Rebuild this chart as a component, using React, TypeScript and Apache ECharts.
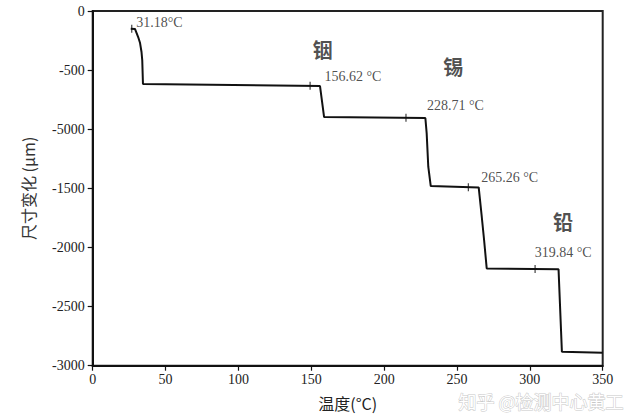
import React, { useEffect, useRef } from "react";
import * as echarts from "echarts";

// Curve: temperature (°C) vs size change (μm)
const temps = [26.1, 29.0, 31.2, 32.5, 33.5, 34.0, 34.5, 156.0, 158.8, 228.3, 229.2, 230.3, 232.0, 264.9, 267.0, 268.6, 270.4, 319.7, 322.0, 350];
const sizes = [-150, -152, -220, -271, -347, -415, -618, -635, -897, -905, -1035, -1317, -1481, -1492, -1740, -1937, -2177, -2185, -2882, -2891];

// Small tick marks on the curve
const markTemps = [26.8, 149.2, 215.0, 257.8, 303.6];
const markSizes = [-150, -633, -903, -1491, -2183];

// Transition temperature annotations
const meltTemps = [31.18, 156.62, 228.71, 265.26, 319.84];
const meltSizes = [-152, -635, -905, -1492, -2185];
const meltLabels = ["31.18°C", "156.62 °C", "228.71 °C", "265.26 °C", "319.84 °C"];
const meltOffsets = [[-1.5, -6], [4, -9.5], [1.5, -12], [2.5, -9], [-23.5, -16]];

// Element names
const metalNames = ["铟", "锡", "铅"];
const metalTemps = [157.9, 247.5, 322.8];
const metalSizes = [-326, -471, -1783];

// Axis ticks
const yTickValues = [0, -500, -1000, -1500, -2000, -2500, -3000];
const yTickLabels = ["0", "-500", "-5000", "-1500", "-2000", "-2500", "-3000"];

export default function App() {
  const ref = useRef<HTMLDivElement>(null);
  useEffect(() => {
    if (!ref.current) return;
    const chart = echarts.init(ref.current, null, { renderer: "svg" });
    const serif = "Liberation Serif";
    chart.setOption({
      animation: false,
      backgroundColor: "#ffffff",
      grid: {
        left: 92.7,
        right: 37.3,
        top: 11,
        bottom: 54.3,
        show: true,
        borderColor: "#222",
        borderWidth: 2,
        backgroundColor: "transparent",
      },
      xAxis: {
        type: "value",
        min: 0,
        max: 350,
        interval: 50,
        name: "温度(°C)",
        nameLocation: "middle",
        nameGap: 29,
        nameTextStyle: { fontFamily: "Noto Sans CJK SC", fontSize: 16, color: "#222" },
        axisLine: { show: true, onZero: false, lineStyle: { color: "#111", width: 2 } },
        axisTick: { show: true, inside: false, length: 5, lineStyle: { color: "#111", width: 1.2 } },
        axisLabel: { fontFamily: serif, fontSize: 14, color: "#222", margin: 7 },
        splitLine: { show: false },
      },
      yAxis: {
        type: "value",
        min: -3000,
        max: 0,
        interval: 500,
        name: "尺寸变化 (μm)",
        nameLocation: "middle",
        nameGap: 57,
        nameTextStyle: { fontFamily: "Noto Sans CJK SC", fontSize: 16, color: "#333" },
        axisLine: { show: true, onZero: false, lineStyle: { color: "#111", width: 2 } },
        axisTick: { show: true, inside: false, length: 5, lineStyle: { color: "#111", width: 1.2 } },
        axisLabel: {
          fontFamily: serif,
          fontSize: 14,
          color: "#222",
          margin: 8,
          formatter: (v: number) => {
            const i = yTickValues.indexOf(v);
            return i >= 0 ? yTickLabels[i] : String(v);
          },
        },
        splitLine: { show: false },
      },
      series: [
        {
          type: "line",
          data: temps.map((t, i) => [t, sizes[i]]),
          showSymbol: false,
          symbol: "none",
          lineStyle: { color: "#111", width: 2 },
          z: 3,
        },
        {
          type: "scatter",
          data: markTemps.map((t, i) => [t, markSizes[i]]),
          symbol: "rect",
          symbolSize: [1.2, 8],
          itemStyle: { color: "#111" },
          z: 4,
        },
        {
          type: "scatter",
          data: meltTemps.map((t, i) => ({
            value: [t, meltSizes[i]],
            label: {
              show: true,
              formatter: meltLabels[i],
              position: meltOffsets[i],
              align: "left",
              verticalAlign: "middle",
              fontFamily: serif,
              fontSize: 14,
              color: "#222",
            },
          })),
          symbolSize: 1,
          itemStyle: { color: "transparent" },
          z: 5,
        },
        {
          type: "scatter",
          data: metalNames.map((n, i) => ({
            value: [metalTemps[i], metalSizes[i]],
            label: {
              show: true,
              formatter: n,
              position: "inside",
              align: "center",
              verticalAlign: "middle",
              fontFamily: "Noto Sans CJK SC",
              fontSize: 20,
              fontWeight: "bold",
              color: "#222",
            },
          })),
          symbolSize: 1,
          itemStyle: { color: "transparent" },
          z: 5,
        },
      ],
      graphic: [
        {
          type: "text",
          right: 16,
          top: 391,
          style: {
            text: "知乎 @检测中心黄工",
            fontFamily: "Noto Sans CJK SC",
            fontSize: 18,
            fill: "#ffffff",
            stroke: "#c8c8c8",
            lineWidth: 1,
          },
        },
      ],
    });
    return () => chart.dispose();
  }, []);
  return (
    <div
      ref={ref}
      style={{ position: "fixed", left: 0, top: 0, width: 640, height: 420 }}
    />
  );
}
